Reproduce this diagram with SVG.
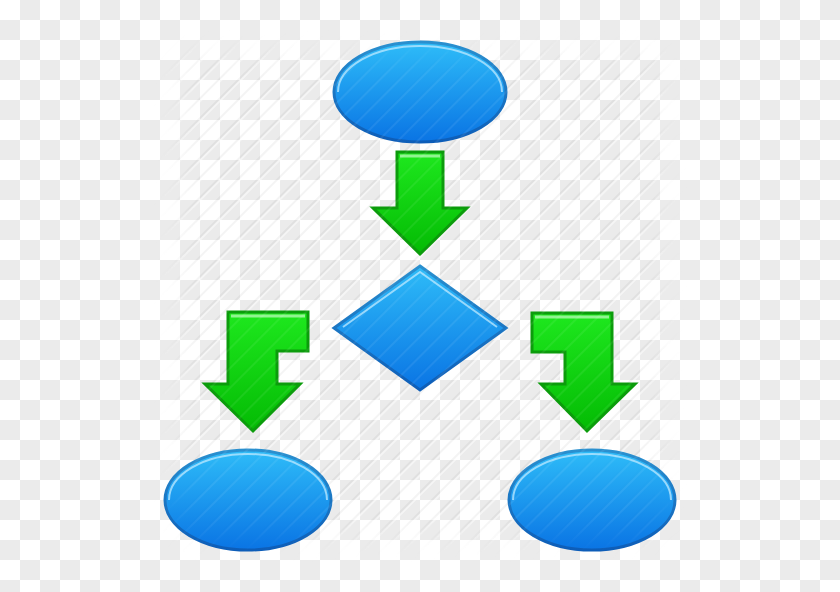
<svg xmlns="http://www.w3.org/2000/svg" width="840" height="592" viewBox="0 0 840 592">
  <defs>
    <pattern id="checker" patternUnits="userSpaceOnUse" width="40" height="40">
      <rect width="40" height="40" fill="#ffffff"/>
      <rect x="20" y="0" width="20" height="20" fill="#ebebeb"/>
      <rect x="0" y="20" width="20" height="20" fill="#ebebeb"/>
    </pattern>
    <pattern id="stripes" patternUnits="userSpaceOnUse" width="14" height="14" patternTransform="rotate(-45)">
      <rect x="0" y="0" width="14" height="2" fill="#000000" fill-opacity="0.04"/>
      <rect x="0" y="2" width="14" height="2" fill="#ffffff" fill-opacity="0.45"/>
    </pattern>
    <filter id="soft" x="-20%" y="-20%" width="140%" height="140%">
      <feGaussianBlur stdDeviation="12"/>
    </filter>
    <mask id="stripeMask" maskUnits="userSpaceOnUse" x="0" y="0" width="840" height="592">
      <rect x="180" y="55" width="480" height="480" fill="#ffffff" filter="url(#soft)"/>
    </mask>
    <linearGradient id="blueFill" x1="0" y1="0" x2="0" y2="1">
      <stop offset="0" stop-color="#2ebcf8"/>
      <stop offset="1" stop-color="#0a74e4"/>
    </linearGradient>
    <linearGradient id="blueStroke" x1="0" y1="0" x2="0" y2="1">
      <stop offset="0" stop-color="#2a90cf"/>
      <stop offset="1" stop-color="#0d5db8"/>
    </linearGradient>
    <linearGradient id="greenFill" x1="0" y1="0" x2="0" y2="1">
      <stop offset="0" stop-color="#1ee81e"/>
      <stop offset="1" stop-color="#04bb04"/>
    </linearGradient>
    <style>
      .node { fill: url(#blueFill); stroke: url(#blueStroke); stroke-width: 3; }
      .hl { fill: none; stroke: #bfeaff; stroke-opacity: 0.75; stroke-width: 2; }
      .arrow { fill: url(#greenFill); stroke: #0c9c0c; stroke-width: 3; stroke-linejoin: miter; }
      .ahl { fill: none; stroke: #9ef59e; stroke-width: 3; stroke-opacity: 0.9; }
    </style>
  </defs>

  <rect width="840" height="592" fill="url(#checker)"/>
  <rect x="150" y="30" width="540" height="540" fill="url(#stripes)" mask="url(#stripeMask)"/>

  <g id="connectors">
    <g id="arrow-top">
      <polygon class="arrow" points="397,152 443,152 443,208 467,208 420,254 373,208 397,208"/>
      <line class="ahl" x1="400" y1="156" x2="440" y2="156"/>
    </g>
    <g id="arrow-left">
      <polygon class="arrow" points="228,312 308,312 308,351 277,351 277,384 300,384 253,431 205,384 228,384"/>
      <line class="ahl" x1="231" y1="316" x2="305" y2="316"/>
    </g>
    <g id="arrow-right">
      <polygon class="arrow" points="532,313 612,313 612,384 635,384 587,431 541,384 565,384 565,352 532,352"/>
      <line class="ahl" x1="535" y1="317" x2="609" y2="317"/>
    </g>
  </g>

  <g id="node-start">
    <ellipse class="node" cx="420" cy="92" rx="86" ry="50"/>
    <path class="hl" d="M338,92 A82,46 0 0 1 502,92"/>
  </g>

  <g id="node-decision">
    <polygon class="node" points="420,266 506,328 420,390 334,328"/>
    <polyline class="hl" points="343,327 420,272 497,327"/>
  </g>

  <g id="node-left">
    <ellipse class="node" cx="248" cy="500" rx="83" ry="50"/>
    <path class="hl" d="M169,500 A79,46 0 0 1 327,500"/>
  </g>

  <g id="node-right">
    <ellipse class="node" cx="592" cy="500" rx="83" ry="50"/>
    <path class="hl" d="M513,500 A79,46 0 0 1 671,500"/>
  </g>

  <rect x="150" y="30" width="540" height="540" fill="url(#stripes)" mask="url(#stripeMask)" opacity="0.15"/>
</svg>
